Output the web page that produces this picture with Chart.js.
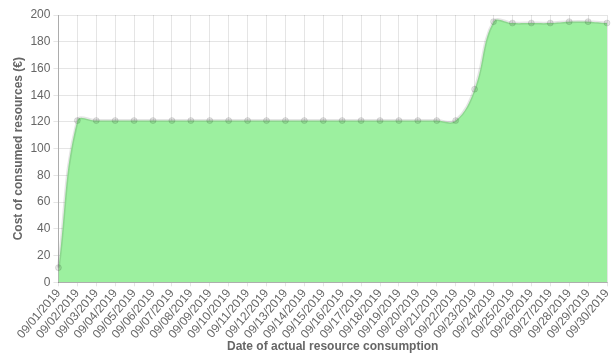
<!DOCTYPE html>
<html>
<head>
<meta charset="utf-8">
<script src="https://cdn.jsdelivr.net/npm/chart.js@4/dist/chart.umd.min.js"></script>
<style>
html,body{margin:0;padding:0;background:#fff;}
#wrap{width:613px;height:357px;}
</style>
</head>
<body>
<div id="wrap"><canvas id="c" width="613" height="357"></canvas></div>
<script>
const categories = ["09/01/2019","09/02/2019","09/03/2019","09/04/2019","09/05/2019","09/06/2019","09/07/2019","09/08/2019","09/09/2019","09/10/2019","09/11/2019","09/12/2019","09/13/2019","09/14/2019","09/15/2019","09/16/2019","09/17/2019","09/18/2019","09/19/2019","09/20/2019","09/21/2019","09/22/2019","09/23/2019","09/24/2019","09/25/2019","09/26/2019","09/27/2019","09/28/2019","09/29/2019","09/30/2019"];
const costValues = [11,121,121,121,121,121,121,121,121,121,121,121,121,121,121,121,121,121,121,121,121,121,144.5,195,194,194,194,195,195,194];
const yTitle = "Cost of consumed resources (€)";
const xTitle = "Date of actual resource consumption";

Chart.defaults.font.family = "'Liberation Sans', Arial, sans-serif";
Chart.defaults.font.size = 12;
Chart.defaults.color = "#666";

new Chart(document.getElementById('c'), {
  type: 'line',
  data: {
    labels: categories,
    datasets: [{
      data: costValues,
      fill: 'origin',
      backgroundColor: '#9cf09f',
      borderColor: 'rgba(0,0,0,0.1)',
      borderWidth: 3,
      tension: 0.4,
      pointRadius: 3,
      pointBackgroundColor: 'rgba(0,0,0,0.1)',
      pointBorderColor: 'rgba(0,0,0,0.1)',
      pointBorderWidth: 1
    }]
  },
  options: {
    responsive: false,
    animation: false,
    layout: { padding: { top: 15, right: 6, left: 11, bottom: 0 } },
    plugins: { legend: { display: false }, tooltip: { enabled: false } },
    scales: {
      x: {
        afterFit: (s) => { s.paddingRight = 0; },
        grid: { color: 'rgba(0,0,0,0.1)', tickLength: 4 },
        border: { color: 'rgba(0,0,0,0.25)' },
        ticks: { maxRotation: 50, minRotation: 50, autoSkip: false, color: '#666', padding: 0 },
        title: { display: true, text: xTitle, font: { weight: 'bold', size: 12 }, color: '#666', padding: { top: -2, bottom: 3 } }
      },
      y: {
        min: 0, max: 200,
        grid: { color: 'rgba(0,0,0,0.1)', tickLength: 5 },
        border: { color: 'rgba(0,0,0,0.25)' },
        ticks: { stepSize: 20, color: '#666', padding: 3 },
        title: { display: true, text: yTitle, font: { weight: 'bold', size: 12 }, color: '#666', padding: { top: 0, bottom: 2 } }
      }
    }
  }
});
</script>
</body>
</html>
